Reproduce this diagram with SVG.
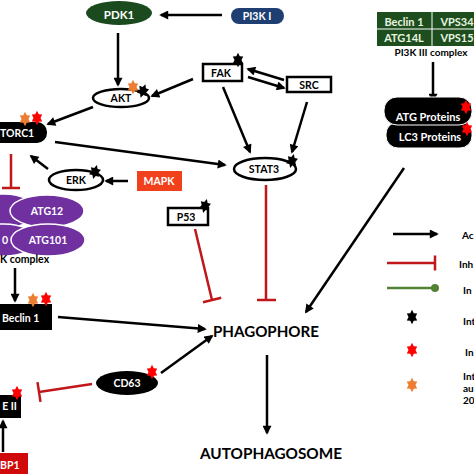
<svg xmlns="http://www.w3.org/2000/svg" xmlns:xlink="http://www.w3.org/1999/xlink" width="474" height="474" viewBox="0 0 474 474">
<style>
text{font-family:Lato,"Liberation Sans",sans-serif;font-weight:bold;}
.w{fill:#fff;font-size:10.5px;text-anchor:middle;dominant-baseline:central;}
.b{fill:#000;font-size:10.5px;text-anchor:middle;dominant-baseline:central;}
.big{fill:#000;font-size:16px;dominant-baseline:central;}
.leg{fill:#000;font-size:10px;dominant-baseline:central;}
.node{fill:#fff;stroke:#000;stroke-width:2.5;}
.act{stroke:#000;stroke-width:2.5;fill:none;marker-end:url(#ah);}
.inh{stroke:#c0171b;stroke-width:2.5;fill:none;}
</style>
<defs>
<marker id="ah" viewBox="0 0 10 10" refX="8" refY="5" markerWidth="10" markerHeight="9" markerUnits="userSpaceOnUse" orient="auto"><path d="M0,0 L10,5 L0,10 z" fill="#000"/></marker>
<polygon id="star" points="0,-6 1.75,-3.03 5.2,-3 3.5,0 5.2,3 1.75,3.03 0,6 -1.75,3.03 -5.2,3 -3.5,0 -5.2,-3 -1.75,-3.03"/>
</defs>
<rect width="474" height="474" fill="#fff"/>

<g id="connectors">
<line class="act" x1="222" y1="15" x2="161" y2="15"/>
<line class="act" x1="118" y1="33" x2="118" y2="85"/>
<line class="act" x1="193" y1="79" x2="152" y2="96"/>
<line class="act" x1="93" y1="107" x2="48" y2="124"/>
<line class="act" x1="284" y1="80" x2="248" y2="69"/>
<line class="act" x1="248" y1="77" x2="284" y2="88"/>
<line class="act" x1="223" y1="87" x2="250" y2="152"/>
<line class="act" x1="307" y1="102" x2="292" y2="152"/>
<line class="act" x1="55" y1="142" x2="225" y2="165"/>
<line class="act" x1="48" y1="169" x2="31" y2="156"/>
<line class="act" x1="128" y1="181" x2="106" y2="181"/>
<line class="act" x1="15" y1="268" x2="15" y2="301"/>
<line class="act" x1="58" y1="317" x2="205" y2="329"/>
<line class="act" x1="161" y1="373" x2="212" y2="336"/>
<line class="act" x1="433" y1="62" x2="433" y2="101"/>
<line class="act" x1="404" y1="168" x2="306" y2="312"/>
<line class="act" x1="267" y1="355" x2="267" y2="433"/>
<line class="act" x1="3" y1="452" x2="3" y2="421"/>
<path class="inh" d="M11,154 V188 M2,188 H20"/>
<path class="inh" d="M266,185 V300 M257,300 H276"/>
<path class="inh" d="M195,229 L212,300 M203,302.2 L221.2,297.8"/>
<path class="inh" d="M92,384 L39,392 M37.5,382.1 L40.5,401.9"/>
</g>

<g id="PDK1"><ellipse cx="119" cy="13" rx="33" ry="12" fill="#1b4a1f"/><text class="w" x="119" y="14" style="font-size:11.5px">PDK1</text></g>
<g id="PI3KI"><rect x="231" y="8" width="53" height="16" rx="8" fill="#1f3f73"/><text class="w" x="257" y="16">PI3K I</text></g>
<g id="AKT"><ellipse class="node" cx="121" cy="98" rx="28" ry="9"/><text class="b" x="121" y="98">AKT</text>
<use href="#star" fill="#ed7d31" transform="translate(133,87) scale(1,1.2)"/><use href="#star" fill="#000" transform="translate(143,91) rotate(20) scale(1,1.2)"/></g>
<g id="FAK"><rect class="node" x="203" y="64" width="39" height="17"/><text class="b" x="221" y="73">FAK</text>
<use href="#star" fill="#000" transform="translate(238,60) scale(1,1.2)"/></g>
<g id="SRC"><rect class="node" x="287" y="77" width="44" height="15"/><text class="b" x="309" y="85">SRC</text></g>
<g id="mTORC1"><rect x="-20" y="122" width="67" height="21" rx="10" fill="#000"/><text class="w" x="0" y="133" style="text-anchor:start">TORC1</text>
<use href="#star" fill="#ed7d31" transform="translate(25,119) scale(1,1.2)"/><use href="#star" fill="#ff0000" transform="translate(37,118) scale(1,1.2)"/></g>
<g id="STAT3"><ellipse class="node" cx="265" cy="169" rx="31" ry="11"/><text class="b" x="264" y="169">STAT3</text>
<use href="#star" fill="#000" transform="translate(292,161) rotate(15) scale(1,1.2)"/></g>
<g id="ERK"><ellipse class="node" cx="76" cy="180" rx="27" ry="10"/><text class="b" x="76" y="180">ERK</text>
<use href="#star" fill="#000" transform="translate(95,172) rotate(15) scale(1,1.2)"/></g>
<g id="MAPK"><rect x="137" y="171" width="45" height="20" fill="#f0401c"/><text class="w" x="159" y="181">MAPK</text></g>
<g id="P53"><rect class="node" x="168" y="208" width="40" height="17"/><text class="b" x="186" y="217">P53</text>
<use href="#star" fill="#000" transform="translate(205,206) rotate(15) scale(1,1.2)"/></g>

<g id="ULK">
<ellipse cx="4" cy="211" rx="32" ry="17" fill="#7030a0" stroke="#fff" stroke-width="1.5"/>
<ellipse cx="4" cy="240" rx="32" ry="16" fill="#7030a0" stroke="#fff" stroke-width="1.5"/>
<text class="w" x="5" y="240">0</text>
<ellipse cx="47" cy="211" rx="37" ry="16" fill="#7030a0" stroke="#fff" stroke-width="1.5"/>
<text class="w" x="47" y="211">ATG12</text>
<ellipse cx="48" cy="240" rx="37" ry="16" fill="#7030a0" stroke="#fff" stroke-width="1.5"/>
<text class="w" x="48" y="240">ATG101</text>
<text class="b" x="0" y="259" style="text-anchor:start">K complex</text>
</g>

<g id="Beclin1"><rect x="-5" y="304" width="57" height="26" fill="#000"/><text class="w" x="2" y="318" style="text-anchor:start">Beclin 1</text>
<use href="#star" fill="#ed7d31" transform="translate(33,300) scale(1,1.2)"/><use href="#star" fill="#ff0000" transform="translate(46,299) scale(1,1.2)"/></g>
<g id="CD63"><ellipse cx="127" cy="383" rx="31" ry="12" fill="#000"/><text class="w" x="127" y="383">CD63</text>
<use href="#star" fill="#ff0000" transform="translate(152,372) scale(1,1.2)"/></g>
<g id="ClassII"><rect x="-5" y="395" width="26" height="23" fill="#000"/><text class="w" x="17" y="406" style="text-anchor:end">E II</text>
<use href="#star" fill="#ff0000" transform="translate(17,393) scale(1,1.2)"/></g>
<g id="BP1"><rect x="-5" y="453" width="33" height="21" fill="#d00a0a"/><text class="w" x="0" y="465" style="text-anchor:start">BP1</text></g>

<g id="PHAGOPHORE"><text class="big" x="213" y="330" textLength="106" lengthAdjust="spacingAndGlyphs">PHAGOPHORE</text></g>
<g id="AUTOPHAGOSOME"><text class="big" x="200" y="452" textLength="142" lengthAdjust="spacingAndGlyphs">AUTOPHAGOSOME</text></g>

<g id="PI3KIII">
<rect x="377" y="12" width="100" height="34" fill="#1e4d1e"/>
<line x1="377" y1="29" x2="474" y2="29" stroke="#fff" stroke-width="1"/>
<line x1="432" y1="12" x2="432" y2="46" stroke="#fff" stroke-width="1"/>
<text class="w" x="404" y="21" style="fill:#e8f5e0;font-size:11px">Beclin 1</text>
<text class="w" x="457" y="21" style="fill:#e8f5e0;font-size:11px">VPS34</text>
<text class="w" x="404" y="37" style="fill:#e8f5e0;font-size:11px">ATG14L</text>
<text class="w" x="457" y="37" style="fill:#e8f5e0;font-size:11px">VPS15</text>
<text class="b" x="431" y="52" style="font-size:10px">PI3K III complex</text>
</g>
<g id="ATGLC3">
<rect x="386" y="122" width="86" height="26" rx="12" fill="#000" stroke="#fff" stroke-width="1"/>
<rect x="384" y="97" width="88" height="28" rx="13" fill="#000" stroke="#fff" stroke-width="1"/>
<text class="w" x="428" y="116" style="font-size:11px">ATG Proteins</text>
<text class="w" x="430" y="136" style="font-size:11px">LC3 Proteins</text>
<use href="#star" fill="#ff0000" transform="translate(466,107) scale(1,1.2)"/>
<use href="#star" fill="#ff0000" transform="translate(467,129) scale(1,1.2)"/>
</g>

<g id="legend">
<line class="act" x1="393" y1="234" x2="437" y2="234"/>
<path class="inh" d="M387,263 H435 M435,255.5 V270.5"/>
<line x1="387" y1="288" x2="432" y2="288" stroke="#548235" stroke-width="2.5"/>
<circle cx="435" cy="288" r="4" fill="#548235"/>
<use href="#star" fill="#000" transform="translate(412,317) scale(1,1.2)"/>
<use href="#star" fill="#ff0000" transform="translate(412,350) scale(1,1.2)"/>
<use href="#star" fill="#ed7d31" transform="translate(412,385) scale(1,1.2)"/>
<text class="leg" x="462" y="235">Ac</text>
<text class="leg" x="459" y="264">Inh</text>
<text class="leg" x="463" y="290">In</text>
<text class="leg" x="463" y="321">Int</text>
<text class="leg" x="465" y="352">In</text>
<text class="leg" x="463" y="376">Int</text>
<text class="leg" x="463" y="388">au</text>
<text class="leg" x="463" y="400">20</text>
</g>
</svg>
